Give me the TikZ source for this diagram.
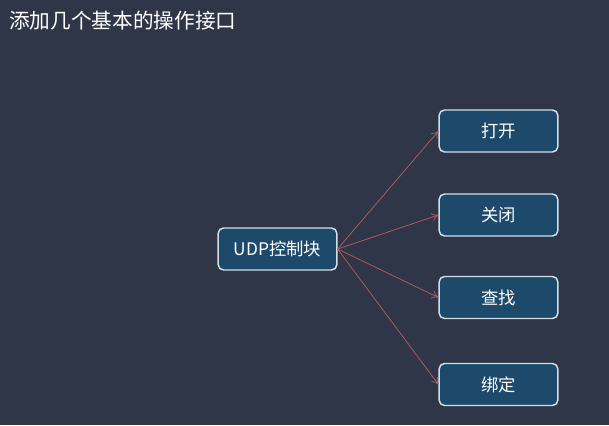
\documentclass[tikz,border=0pt]{standalone}
\usepackage{fontspec}
\setmainfont{Noto Sans CJK SC}
\usetikzlibrary{positioning,arrows.meta}
\definecolor{bgslate}{HTML}{2E3648}
\definecolor{boxblue}{HTML}{1D4A6B}
\definecolor{boxedge}{HTML}{D2DEE8}
\definecolor{linkred}{HTML}{B0585E}

\begin{document}
\begin{tikzpicture}[
  x=0.75pt, y=-0.75pt,
  every node/.style={font=\fontsize{13}{15}\selectfont, text=white},
  opbox/.style={draw=boxedge, fill=boxblue, line width=1.1pt,
                rounded corners=4pt, minimum width=89pt, minimum height=31.5pt,
                inner sep=0pt},
  link/.style={draw=linkred, line width=0.6pt, -{To[length=5pt,width=6pt]}}
]
% picture is 609 x 425 px, 1px = 0.75pt, y runs downwards

%% --- Background ----------------------------------------------
\fill[bgslate] (0,0) rectangle (609,425);
\useasboundingbox (0,0) rectangle (609,425);

%% --- Title ---------------------------------------------------
\node[anchor=west, font=\fontsize{15.5}{18}\selectfont, inner sep=0pt]
     (title) at (9,21) {添加几个基本的操作接口};

%% --- Control block (left) ------------------------------------
\node[opbox] (udp) at (277.5,249) {UDP控制块};

%% --- Operations (right column) -------------------------------
\node[opbox] (open)  at (498.5,131) {打开};
\node[opbox] (close) at (498.5,215) {关闭};
\node[opbox] (find)  at (498.5,297.5) {查找};
\node[opbox] (bind)  at (498.5,384.5) {绑定};

%% --- Connectors ----------------------------------------------
\foreach \op in {open,close,find,bind}{
  \draw[link] (udp.east) -- (\op.west);
}

\end{tikzpicture}
\end{document}
